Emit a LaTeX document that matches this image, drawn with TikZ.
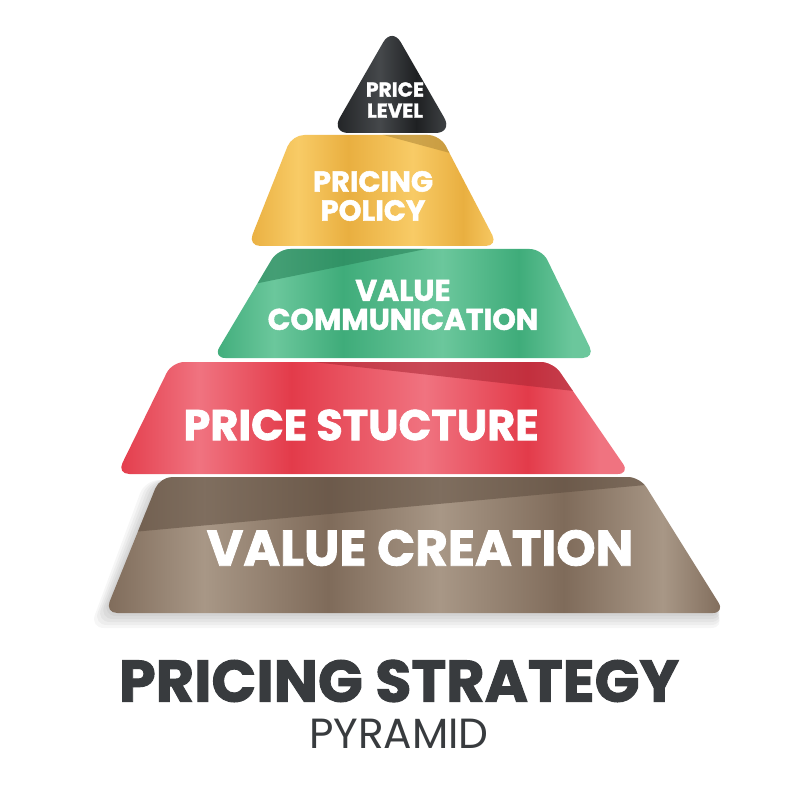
\documentclass[tikz,border=0pt]{standalone}
\usepackage{fontspec}
\setmainfont{Poppins}[BoldFeatures={FakeBold=1.6}]
\usetikzlibrary{positioning}

\definecolor{levelA}{HTML}{1E2022}
\definecolor{levelB}{HTML}{45484B}
\definecolor{policyA}{HTML}{E9AF40}
\definecolor{policyB}{HTML}{F8CB66}
\definecolor{policyband}{HTML}{B38B3A}
\definecolor{commA}{HTML}{3FAC7A}
\definecolor{commB}{HTML}{6BC79C}
\definecolor{commband}{HTML}{257E55}
\definecolor{structA}{HTML}{E33B4A}
\definecolor{structB}{HTML}{F07380}
\definecolor{structband}{HTML}{A92634}
\definecolor{createA}{HTML}{7F6B5A}
\definecolor{createB}{HTML}{A89786}
\definecolor{createband}{HTML}{5E4D3F}
\definecolor{titlegray}{HTML}{383B3E}

\pgfdeclarehorizontalshading{levelshade}{100bp}{color(0bp)=(levelA); color(25bp)=(levelA); color(45bp)=(levelB); color(60bp)=(levelA); color(75bp)=(levelB); color(100bp)=(levelB)}
\pgfdeclarehorizontalshading{policyshade}{100bp}{color(0bp)=(policyA); color(25bp)=(policyA); color(35bp)=(policyB); color(45bp)=(policyA); color(58bp)=(policyB); color(68bp)=(policyA); color(75bp)=(policyB); color(100bp)=(policyB)}
\pgfdeclarehorizontalshading{commshade}{100bp}{color(0bp)=(commA); color(25bp)=(commA); color(33bp)=(commB); color(42bp)=(commA); color(55bp)=(commB); color(65bp)=(commA); color(72bp)=(commB); color(100bp)=(commB)}
\pgfdeclarehorizontalshading{structshade}{100bp}{color(0bp)=(structA); color(25bp)=(structA); color(33bp)=(structB); color(42bp)=(structA); color(55bp)=(structB); color(65bp)=(structA); color(72bp)=(structB); color(100bp)=(structB)}
\pgfdeclarehorizontalshading{createshade}{100bp}{color(0bp)=(createA); color(25bp)=(createA); color(33bp)=(createB); color(43bp)=(createA); color(52bp)=(createB); color(62bp)=(createA); color(70bp)=(createB); color(75bp)=(createA); color(100bp)=(createA)}

\begin{document}
\begin{tikzpicture}[x=0.02cm,y=-0.02cm]
\tikzstyle{layer}=[rounded corners=7pt]
\tikzstyle{lbl}=[text=white,align=center,inner sep=0pt]
\useasboundingbox (0,0) rectangle (800,800);
\fill[white] (0,0) rectangle (800,800);

\coordinate (c1) at (160,477);
\coordinate (c2) at (640,477);
\coordinate (c3) at (725,613);
\coordinate (c4) at (105,613);
\coordinate (s1) at (172,362);
\coordinate (s2) at (553,362);
\coordinate (s3) at (630,474);
\coordinate (s4) at (117,474);
\coordinate (m1) at (278,249);
\coordinate (m2) at (542,249);
\coordinate (m3) at (595,358);
\coordinate (m4) at (213,358);
\coordinate (p1) at (292,135);
\coordinate (p2) at (440,135);
\coordinate (p3) at (498,246);
\coordinate (p4) at (248,246);
\coordinate (l1) at (392,27);
\coordinate (l2) at (453,133);
\coordinate (l3) at (331,133);

\foreach \d in {3,6,9,12,15}
  \fill[black,opacity=0.035,rounded corners=8pt] (160-\d,480) -- (640,480) -- (725,613+\d) -- (105-\d,613+\d) -- cycle;

\shade[layer,shading=createshade] (c1) -- (c2) -- (c3) -- (c4) -- cycle;
\begin{scope}
\clip[layer] (c1) -- (c2) -- (c3) -- (c4) -- cycle;
\fill[createband,opacity=0.55] (100,470) -- (700,470) -- (700,480) -- (100,535) -- cycle;
\end{scope}

\shade[layer,shading=structshade] (s1) -- (s2) -- (s3) -- (s4) -- cycle;
\begin{scope}
\clip[layer] (s1) -- (s2) -- (s3) -- (s4) -- cycle;
\fill[structband,opacity=0.55] (250,355) -- (700,355) -- (700,405) -- cycle;
\end{scope}

\shade[layer,shading=commshade] (m1) -- (m2) -- (m3) -- (m4) -- cycle;
\begin{scope}
\clip[layer] (m1) -- (m2) -- (m3) -- (m4) -- cycle;
\fill[commband,opacity=0.55] (200,240) -- (470,240) -- (200,295) -- cycle;
\end{scope}

\shade[layer,shading=policyshade] (p1) -- (p2) -- (p3) -- (p4) -- cycle;
\begin{scope}
\clip[layer] (p1) -- (p2) -- (p3) -- (p4) -- cycle;
\fill[policyband,opacity=0.6] (365,130) -- (520,130) -- (520,172) -- cycle;
\end{scope}

\shade[rounded corners=10pt,shading=levelshade] (l1) -- (l2) -- (l3) -- cycle;

\node[lbl,font=\bfseries\fontsize{11.5}{12}\selectfont] (level) at (395,100) {PRICE\\LEVEL};
\node[lbl,font=\bfseries\fontsize{16.5}{16.5}\selectfont] (policy) at (373,196) {PRICING\\POLICY};
\node[lbl,font=\bfseries\fontsize{17}{16.5}\selectfont] (comm) at (403,305) {VALUE\\COMMUNICATION};
\node[lbl,font=\bfseries\fontsize{24.5}{30}\selectfont] (struct) at (361,425) {PRICE STUCTURE};
\node[lbl,font=\bfseries\fontsize{28.5}{36}\selectfont] (create) at (420,548) {VALUE CREATION};

\node[text=titlegray,inner sep=0pt,font=\bfseries\fontsize{33.5}{36}\selectfont] (title) at (399,681) {PRICING STRATEGY};
\node[text=titlegray,inner sep=0pt,font=\fontsize{24}{26}\selectfont,below=9pt of title] (sub) {PYRAMID};
\end{tikzpicture}
\end{document}
